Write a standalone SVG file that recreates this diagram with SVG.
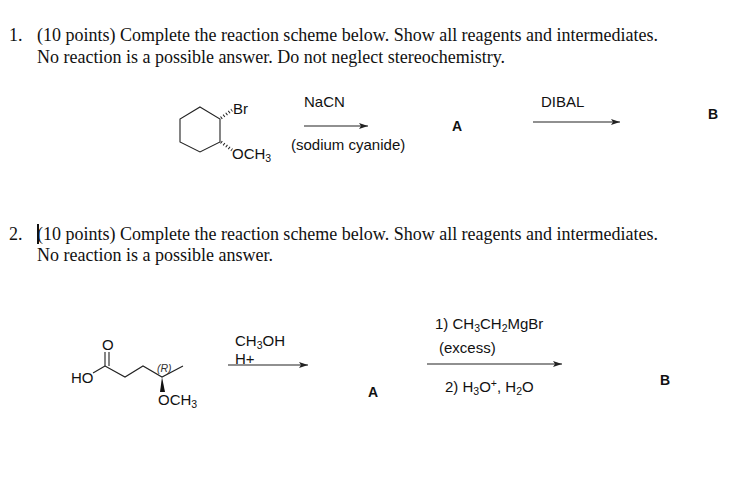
<svg xmlns="http://www.w3.org/2000/svg" width="755" height="479" viewBox="0 0 755 479">
<style>
.q{font-family:"Liberation Serif",serif;font-size:18px;fill:#111}
.c{font-family:"Liberation Sans",sans-serif;font-size:15px;fill:#111}
.b{font-family:"Liberation Sans",sans-serif;font-size:14px;font-weight:bold;fill:#111}
.s{font-size:10.5px}
.bond{fill:none;stroke:#222;stroke-width:1.1}
.dash{fill:none;stroke:#222;stroke-width:3;stroke-dasharray:1 2.2}
.arr{stroke:#222;stroke-width:1.1;fill:none;marker-end:url(#ah)}
</style>
<defs><marker id="ah" markerUnits="userSpaceOnUse" markerWidth="10" markerHeight="6" refX="9" refY="3" orient="auto"><path d="M0 0L9 3L0 6L2 3Z" fill="#222"/></marker></defs>
<rect width="755" height="479" fill="#fff"/>
<g id="question-1">
<text class="q" x="9" y="41">1.</text>
<text class="q" x="37" y="41" textLength="621" lengthAdjust="spacingAndGlyphs">(10 points) Complete the reaction scheme below. Show all reagents and intermediates.</text>
<text class="q" x="37" y="63" textLength="468" lengthAdjust="spacingAndGlyphs">No reaction is a possible answer. Do not neglect stereochemistry.</text>
</g>
<g id="question-2">
<text class="q" x="9" y="240">2.</text>
<text class="q" x="37" y="240" textLength="621" lengthAdjust="spacingAndGlyphs">(10 points) Complete the reaction scheme below. Show all reagents and intermediates.</text>
<text class="q" x="37" y="261" textLength="236" lengthAdjust="spacingAndGlyphs">No reaction is a possible answer.</text>
<rect x="37" y="224" width="2" height="20" fill="#111"/>
</g>
<g id="molecule-1">
<path class="bond" d="M200 107L220 119V142L200 152L180 142V119Z"/>
<path class="dash" d="M221 118L232 110"/>
<path class="dash" d="M221 142L232 150"/>
<text class="c" x="233" y="114">Br</text>
<text class="c" x="232" y="159">OCH<tspan class="s" dy="3">3</tspan></text>
</g>
<g id="reagents-1">
<text class="c" x="304" y="107">NaCN</text>
<text class="c" x="291" y="150">(sodium cyanide)</text>
<text class="c" x="541" y="107">DIBAL</text>
</g>
<g id="product-1a"><text class="b" x="452" y="131">A</text></g>
<g id="product-1b"><text class="b" x="708" y="119">B</text></g>
<g id="molecule-2">
<text class="c" x="71" y="383">HO</text>
<path class="bond" d="M93 373L105 366"/>
<path class="bond" d="M105 366V352M109 366V352"/>
<text class="c" x="102" y="350">O</text>
<path class="bond" d="M105 366L125 377L143 366L162 377L183 366"/>
<path d="M162 377L160 392H165Z" fill="#111"/>
<text x="157" y="372" font-family="Liberation Sans,sans-serif" font-size="10.5" font-style="italic" fill="#333">(R)</text>
<text class="c" x="158" y="405">OCH<tspan class="s" dy="3">3</tspan></text>
</g>
<g id="reagents-2">
<text class="c" x="235" y="346">CH<tspan class="s" dy="3">3</tspan><tspan dy="-3">OH</tspan></text>
<text class="c" x="235" y="364">H+</text>
<text class="c" x="435" y="329">1) CH<tspan class="s" dy="3">3</tspan><tspan dy="-3">CH</tspan><tspan class="s" dy="3">2</tspan><tspan dy="-3">MgBr</tspan></text>
<text class="c" x="439" y="353">(excess)</text>
<text class="c" x="445" y="392">2) H<tspan class="s" dy="3">3</tspan><tspan dy="-3">O</tspan><tspan class="s" dy="-5">+</tspan><tspan dy="5">, H</tspan><tspan class="s" dy="3">2</tspan><tspan dy="-3">O</tspan></text>
</g>
<g id="product-2a"><text class="b" x="368" y="397">A</text></g>
<g id="product-2b"><text class="b" x="660" y="385">B</text></g>
<g id="connectors">
<path class="arr" d="M304 126H368"/>
<path class="arr" d="M533 122H620"/>
<path class="arr" d="M228 365H308"/>
<path class="arr" d="M427 364H562"/>
</g>
</svg>
